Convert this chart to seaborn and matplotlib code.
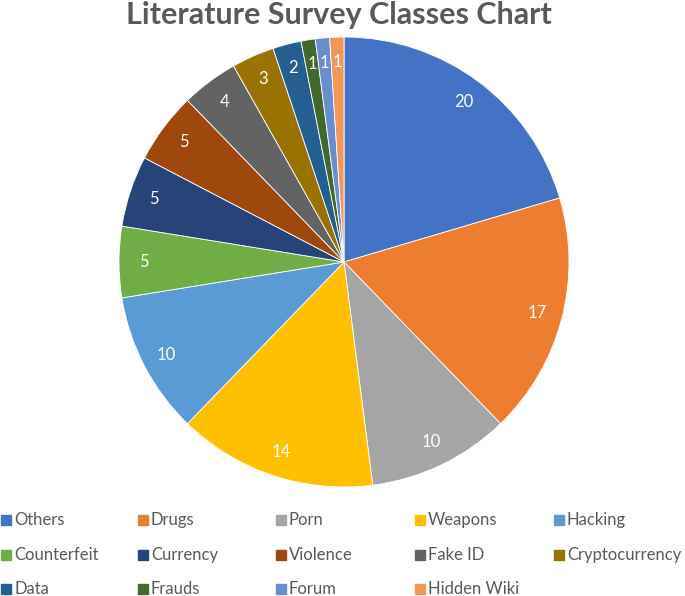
import matplotlib
matplotlib.use("Agg")
import matplotlib.pyplot as plt
import matplotlib.patches as mpatches
import seaborn as sns

categories = ["Others", "Drugs", "Porn", "Weapons", "Hacking", "Counterfeit", "Currency",
              "Violence", "Fake ID", "Cryptocurrency", "Data", "Frauds", "Forum", "Hidden Wiki"]
counts = [20, 17, 10, 14, 10, 5, 5, 5, 4, 3, 2, 1, 1, 1]
colors = ["#4472C4", "#ED7D31", "#A5A5A5", "#FFC000", "#5B9BD5", "#70AD47", "#264478",
          "#9E480E", "#636363", "#997300", "#255E91", "#43682B", "#698ED0", "#F1975A"]

sns.set_theme(style="white")
plt.rcParams['font.family'] = ['Lato', 'DejaVu Sans']

W, H = 685, 596
fig = plt.figure(figsize=(W / 100, H / 100), dpi=100)
ax = fig.add_axes([119 / W, 109 / H, 450 / W, 450 / H])

total = sum(counts)
wedges, texts, autotexts = ax.pie(
    counts, colors=sns.color_palette(colors), startangle=90, counterclock=False,
    autopct=lambda p: f"{round(p * total / 100)}", pctdistance=0.89,
    wedgeprops=dict(linewidth=0.6, edgecolor="white"),
    textprops=dict(color="white", fontsize=12))
ax.set_xlim(-1, 1)
ax.set_ylim(-1, 1)
ax.set_aspect("equal")

fig.text(339 / W, 1 - 15 / H, "Literature Survey Classes Chart", ha="center", va="center",
         fontsize=22, fontweight="bold", color="#595959")

# legend: 5 entries per row, fixed column spacing like the original
col_x = [1, 138, 276, 415, 554]
row_y = [520, 555, 589]
for i, name in enumerate(categories):
    x = col_x[i % 5]
    y = row_y[i // 5]
    fig.patches.append(mpatches.Rectangle(((x) / W, 1 - (y + 5) / H), 10 / W, 10 / H,
                                          transform=fig.transFigure, color=colors[i]))
    fig.text((x + 13) / W, 1 - y / H, name, ha="left", va="center",
             fontsize=12, color="#595959")

fig.savefig("out.png", dpi=100)
